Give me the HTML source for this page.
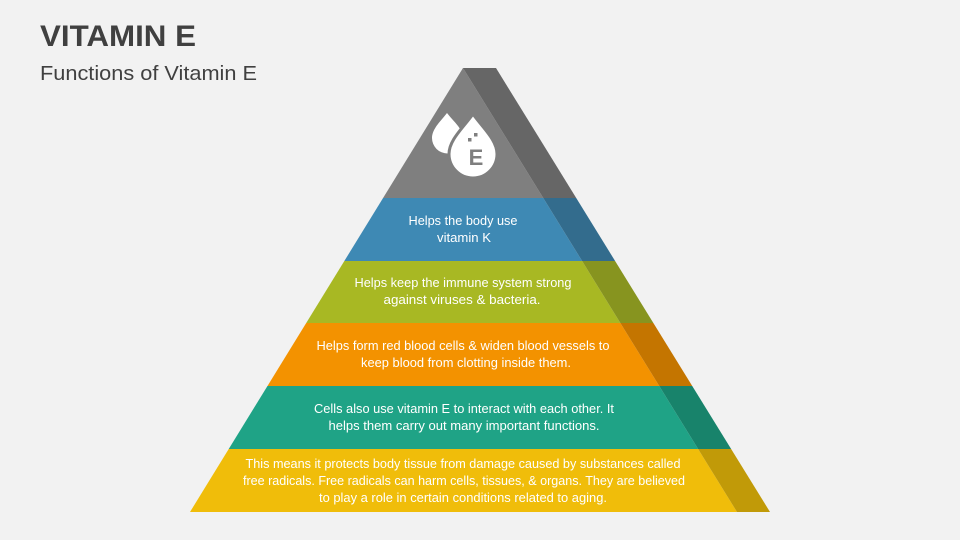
<!DOCTYPE html>
<html><head><meta charset="utf-8"><style>
html,body{margin:0;padding:0;background:#f2f2f2}
svg{display:block}
text{font-family:"Liberation Sans",sans-serif}
</style></head><body>
<svg width="960" height="540" viewBox="0 0 960 540" xmlns="http://www.w3.org/2000/svg">
<rect width="960" height="540" fill="#f2f2f2"/>
<text x="40" y="46" font-size="30" font-weight="bold" fill="#404040" textLength="156" lengthAdjust="spacingAndGlyphs">VITAMIN E</text>
<text x="40" y="80" font-size="20" fill="#404040" textLength="217" lengthAdjust="spacingAndGlyphs">Functions of Vitamin E</text>
<defs>
<clipPath id="front"><polygon points="463,68 190,512 737,512"/></clipPath>
<clipPath id="shad"><polygon points="463,68 496,68 770,512 737,512"/></clipPath>
</defs>
<g clip-path="url(#front)">
<rect x="0" y="60" width="960" height="138" fill="#7f7f7f"/>
<rect x="0" y="198" width="960" height="63" fill="#3e89b4"/>
<rect x="0" y="261" width="960" height="62" fill="#a8b823"/>
<rect x="0" y="323" width="960" height="63" fill="#f39200"/>
<rect x="0" y="386" width="960" height="63" fill="#1fa386"/>
<rect x="0" y="449" width="960" height="63" fill="#f0bd0a"/>
</g>
<g clip-path="url(#shad)">
<rect x="0" y="60" width="960" height="138" fill="#666666"/>
<rect x="0" y="198" width="960" height="63" fill="#336c8d"/>
<rect x="0" y="261" width="960" height="62" fill="#87941f"/>
<rect x="0" y="323" width="960" height="63" fill="#c47500"/>
<rect x="0" y="386" width="960" height="63" fill="#18836b"/>
<rect x="0" y="449" width="960" height="63" fill="#c19a08"/>
</g>
<path d="M447,113 C440,122 432,129 432,138 A15.5,15.5 0 0 0 463,138 C463,129 454,122 447,113 Z" fill="#fff"/>
<path d="M473,114 C463,128 449,140 449,154 A24,24 0 0 0 497,154 C497,140 483,128 473,114 Z" fill="#fff" stroke="#7f7f7f" stroke-width="3"/>
<rect x="474" y="133" width="3.5" height="3.5" fill="#7f7f7f"/>
<rect x="468" y="138" width="3.5" height="3.5" fill="#7f7f7f"/>
<text x="476" y="165" font-size="22" font-weight="bold" fill="#7f7f7f" text-anchor="middle">E</text>
<g fill="#fff" font-size="12.5" text-anchor="middle">
<text x="463" y="225" textLength="109" lengthAdjust="spacingAndGlyphs">Helps the body use</text>
<text x="464" y="242" textLength="54" lengthAdjust="spacingAndGlyphs">vitamin K</text>
<text x="463" y="287" textLength="217" lengthAdjust="spacingAndGlyphs">Helps keep the immune system strong</text>
<text x="462" y="304" textLength="157" lengthAdjust="spacingAndGlyphs">against viruses &amp; bacteria.</text>
<text x="463" y="350" textLength="293" lengthAdjust="spacingAndGlyphs">Helps form red blood cells &amp; widen blood vessels to</text>
<text x="466" y="367" textLength="210" lengthAdjust="spacingAndGlyphs">keep blood from clotting inside them.</text>
<text x="464" y="413" textLength="300" lengthAdjust="spacingAndGlyphs">Cells also use vitamin E to interact with each other. It</text>
<text x="464" y="430" textLength="271" lengthAdjust="spacingAndGlyphs">helps them carry out many important functions.</text>
<text x="463" y="468" textLength="435" lengthAdjust="spacingAndGlyphs">This means it protects body tissue from damage caused by substances called</text>
<text x="464" y="485" textLength="442" lengthAdjust="spacingAndGlyphs">free radicals. Free radicals can harm cells, tissues, &amp; organs. They are believed</text>
<text x="463" y="502" textLength="288" lengthAdjust="spacingAndGlyphs">to play a role in certain conditions related to aging.</text>
</g>
</svg>
</body></html>
